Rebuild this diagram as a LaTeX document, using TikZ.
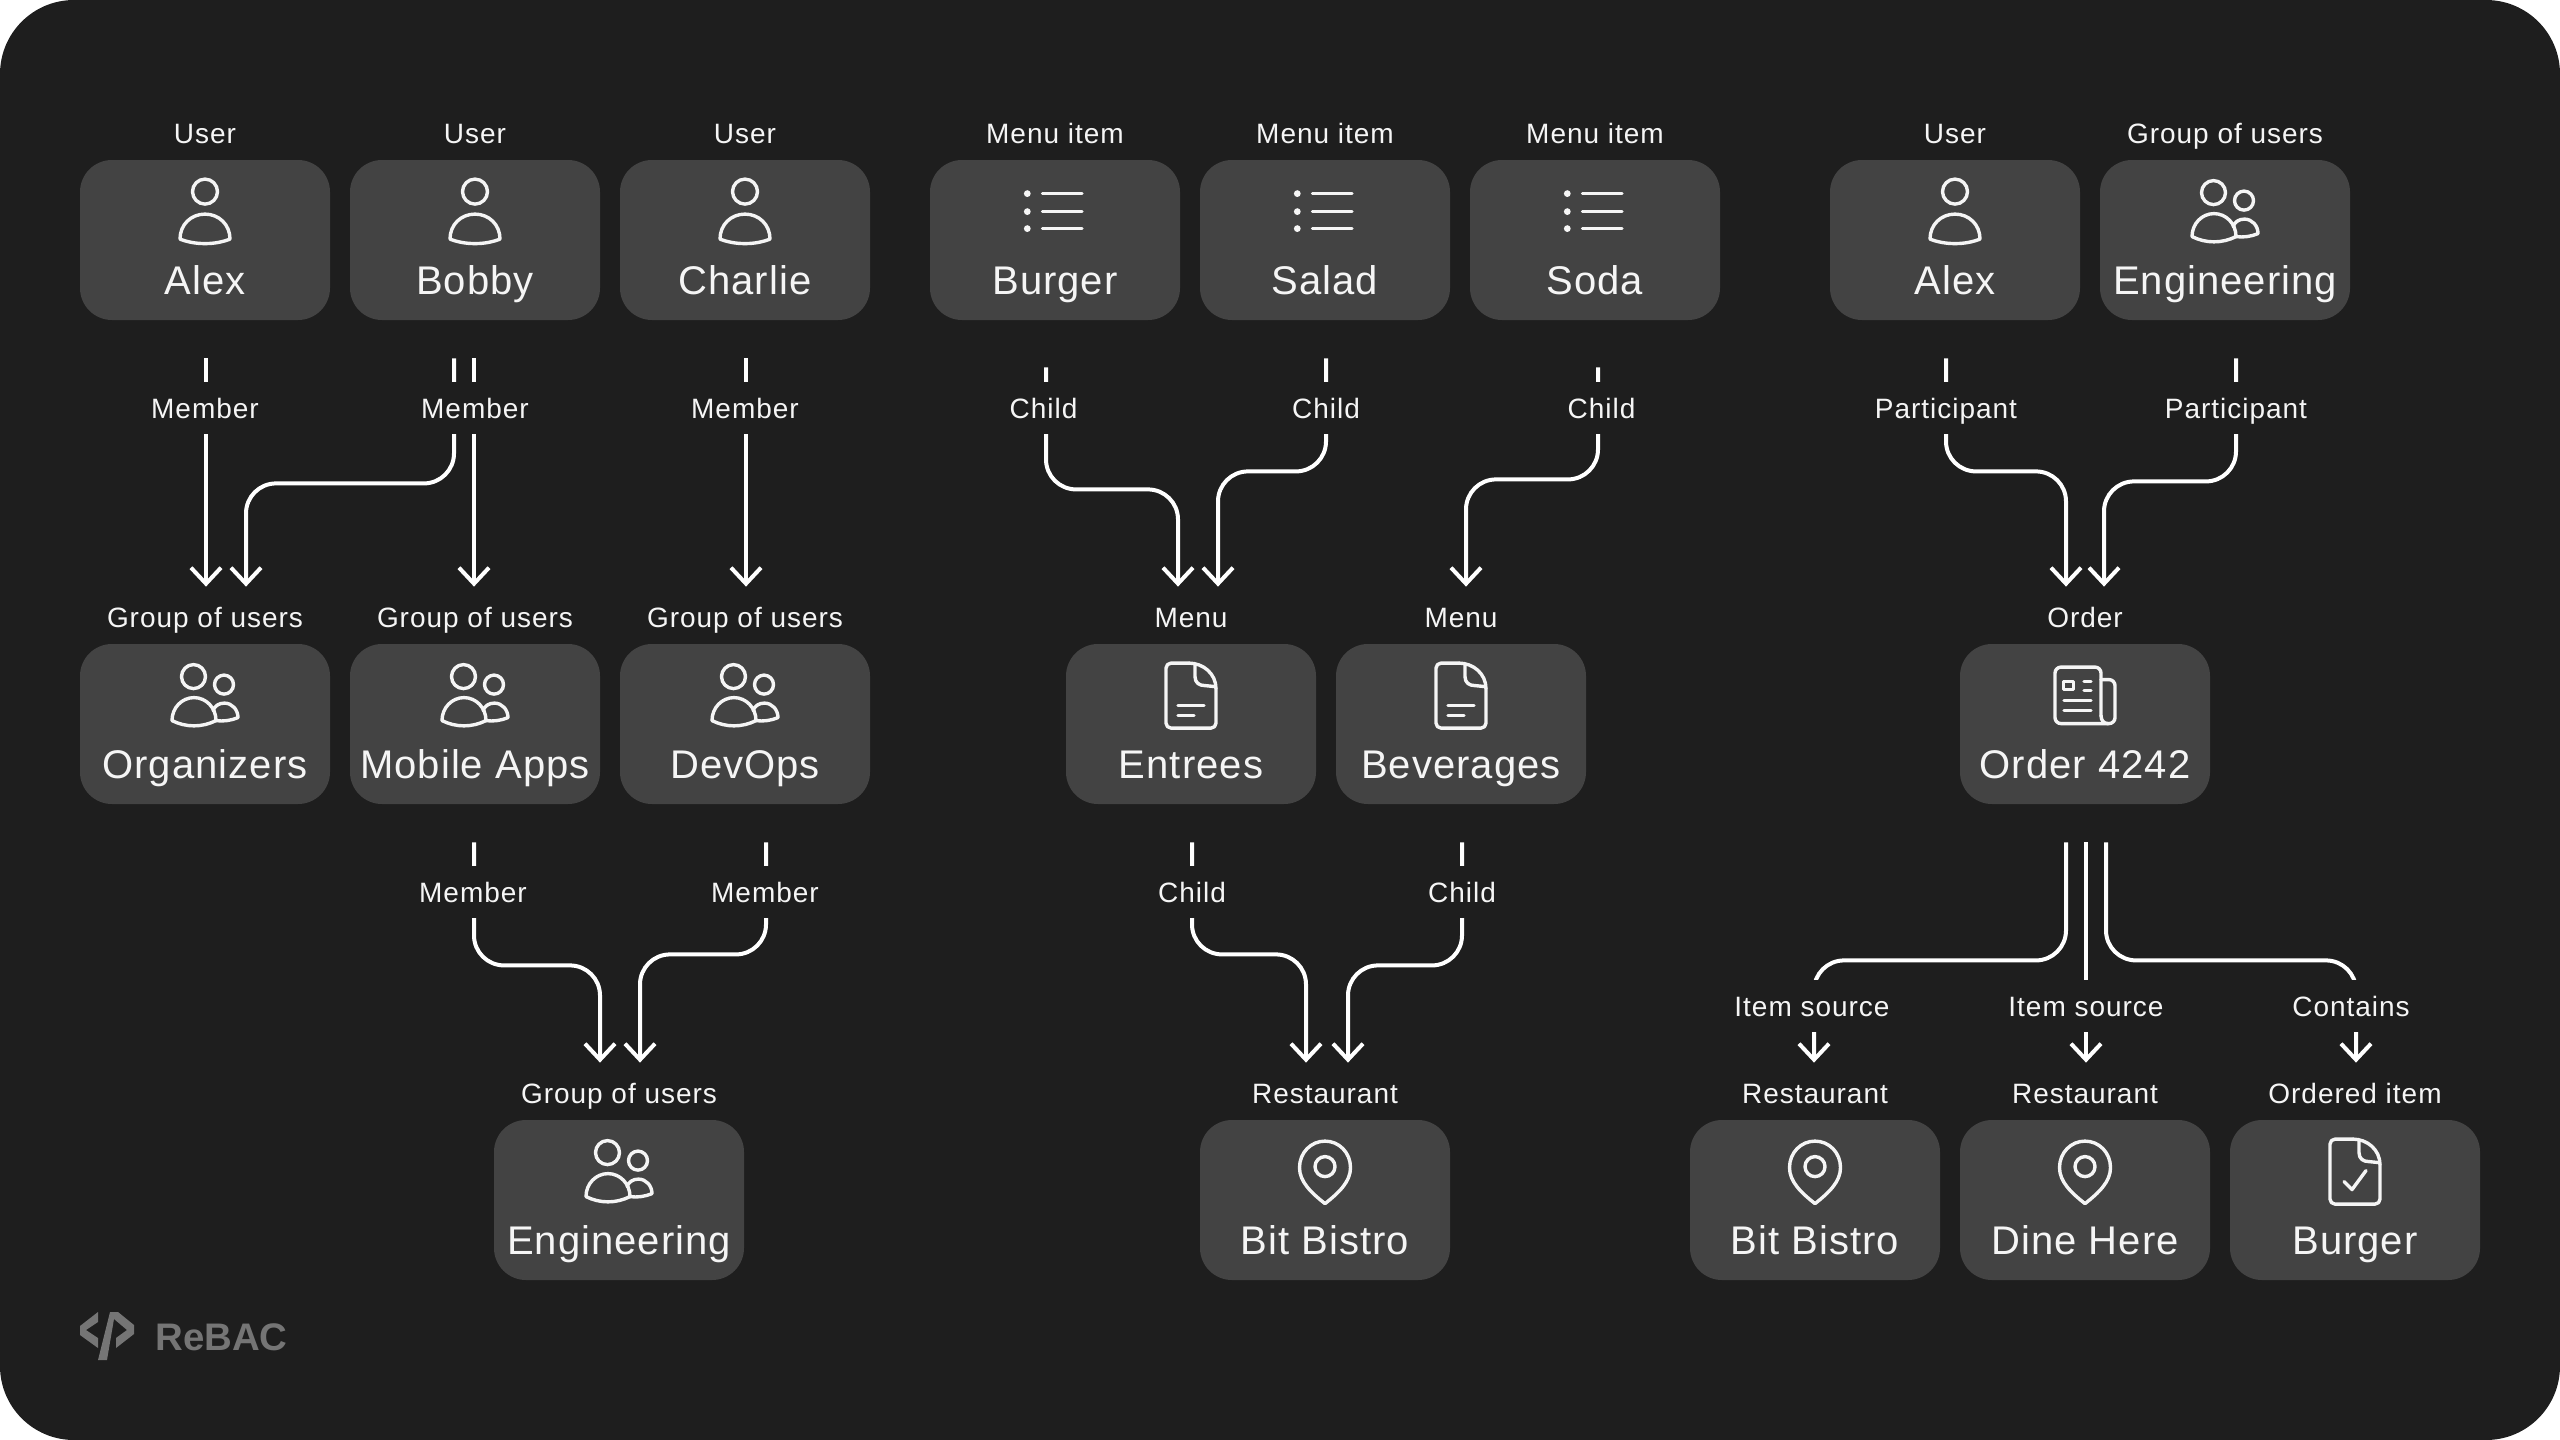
\documentclass[tikz,border=0pt]{standalone}
\usepackage{fontspec}
\setmainfont[LetterSpace=2.6]{Liberation Sans}
\newfontfamily\labfont[LetterSpace=3.5]{Liberation Sans}
\newfontfamily\logofont{Liberation Sans}
\usetikzlibrary{positioning,arrows.meta,calc}
\definecolor{bgdark}{HTML}{1E1E1E}
\definecolor{boxgray}{HTML}{434343}
\definecolor{inkwhite}{HTML}{F5F5F5}
\definecolor{logogray}{HTML}{757575}
\tikzset{
  box/.style = {rectangle, fill = boxgray, rounded corners=16pt, inner sep=0pt,
                minimum width = 125pt, text height = 67pt, text depth = 13pt,
                text = inkwhite, font = \fontsize{20pt}{24pt}\selectfont},
  typelab/.style = {inner sep=0pt, text depth=0pt, text = inkwhite,
                font = \labfont\fontsize{14pt}{17pt}\selectfont},
  rel/.style  = {fill = bgdark, inner ysep=0pt, inner xsep=1pt,
                text height = 18pt, text depth = 8pt, text = inkwhite,
                font = \labfont\fontsize{14pt}{17pt}\selectfont},
  conn/.style = {draw = white, line width=2pt, rounded corners=15pt,
                -{Straight Barb[length=8pt,width=15pt]}},
  ic/.style   = {draw = inkwhite, line width=1.7pt, line cap=round, line join=round},
  user/.pic = {
    \draw[ic] (0,32) circle[radius=12.5];
    \draw[ic] (-25,79.5) .. controls (-25,65) and (-14,54.5) .. (0,54.5)
      .. controls (14,54.5) and (25,65) .. (25,79.5)
      .. controls (10,85.5) and (-10,85.5) .. (-25,79.5) -- cycle;
  },
  usergroup/.pic = {
    \draw[ic] (-11.5,33) circle[radius=12];
    \draw[ic] (19,41) circle[radius=9.5];
    \draw[ic] (-33,77) .. controls (-33,64) and (-23,54) .. (-11,54)
      .. controls (1,54) and (11,64) .. (11,77)
      .. controls (-3,84) and (-19,84) .. (-33,77) -- cycle;
    \draw[ic] (8,67) .. controls (10,62) and (14,59.5) .. (19.5,59.5)
      .. controls (27,59.5) and (33,66) .. (33,74)
      .. controls (26,77) and (18,78) .. (11,77);
  },
  menulist/.pic = {
    \fill[inkwhite] (-27.7,34) circle[radius=3.4] (-27.7,52) circle[radius=3.4]
      (-27.7,69) circle[radius=3.4];
    \draw[ic] (-12.5,34) -- (27,34) (-12.5,52) -- (27,52) (-12.5,69) -- (27,69);
  },
  docpage/.pic = {
    \draw[ic, rounded corners=2.5pt] (-2,19.5) -- (-25,19.5) -- (-25,84.5) -- (25,84.5) -- (25,45);
    \draw[ic] (25,45) .. controls (25,30) and (12,19.5) .. (-2,19.5);
    \draw[ic] (4,21) -- (4,33) .. controls (4,39) and (8,42) .. (14,42) -- (24,43);
  },
  textpage/.pic = {
    \pic {docpage};
    \draw[ic] (-13,62) -- (13,62) (-13,72) -- (3,72);
  },
  okpage/.pic = {
    \pic {docpage};
    \draw[ic] (-11,62) -- (-3,70) -- (11,51);
  },
  mappin/.pic = {
    \draw[ic] (0,84) .. controls (-14,73) and (-25.5,62) .. (-25.5,48)
      .. controls (-25.5,33) and (-14,21.5) .. (0,21.5)
      .. controls (14,21.5) and (25.5,33) .. (25.5,48)
      .. controls (25.5,62) and (14,73) .. (0,84) -- cycle;
    \draw[ic] (0,47) circle[radius=10];
  },
  newspaper/.pic = {
    \draw[ic, rounded corners=3pt] (23,80) -- (-30,80) -- (-30,23.5) -- (16,23.5) -- (16,72);
    \draw[ic] (16,72) .. controls (16,77) and (19,80) .. (23,80);
    \draw[ic, rounded corners=3pt] (16,36) -- (30,36) -- (30,80) -- (23,80);
    \draw[ic, line width=1.5pt] (-21.7,37.7) rectangle (-12,46);
    \draw[ic] (-1,37.7) -- (6,37.7) (-1,47) -- (6,47)
      (-21,57) -- (6,57) (-21,66.7) -- (6,66.7);
  }
}
\begin{document}
\begin{tikzpicture}[x=0.5pt,y=-0.5pt]
  \useasboundingbox (0,0) rectangle (2560,1440);
  \fill[white] (0,0) rectangle (2560,1440);
  \fill[bgdark, rounded corners=37pt] (0,0) rectangle (2560,1440);

  % top row
  \node[box] (alex) at (205,240) {Alex};
  \node[box] (bobby) at (475,240) {Bobby};
  \node[box] (charlie) at (745,240) {Charlie};
  \node[box] (burger) at (1055,240) {Burger};
  \node[box] (salad) at (1325,240) {Salad};
  \node[box] (soda) at (1595,240) {Soda};
  \node[box] (alextwo) at (1955,240) {Alex};
  \node[box] (engtwo) at (2225,240) {Engineering};
  % middle row
  \node[box] (organizers) at (205,724) {Organizers};
  \node[box] (mobile) at (475,724) {Mobile Apps};
  \node[box] (devops) at (745,724) {DevOps};
  \node[box] (entrees) at (1191,724) {Entrees};
  \node[box] (beverages) at (1461,724) {Beverages};
  \node[box] (order) at (2085,724) {Order 4242};
  % bottom row
  \node[box] (eng) at (619,1200) {Engineering};
  \node[box] (bistro) at (1325,1200) {Bit Bistro};
  \node[box] (bistrotwo) at (1815,1200) {Bit Bistro};
  \node[box] (dine) at (2085,1200) {Dine Here};
  \node[box] (burgertwo) at (2355,1200) {Burger};

  \node[typelab, above=7.75pt of alex] (talex) {User};
  \node[typelab, above=7.75pt of bobby] (tbobby) {User};
  \node[typelab, above=7.75pt of charlie] (tcharlie) {User};
  \node[typelab, above=7.75pt of burger] (tburger) {Menu item};
  \node[typelab, above=7.75pt of salad] (tsalad) {Menu item};
  \node[typelab, above=7.75pt of soda] (tsoda) {Menu item};
  \node[typelab, above=7.75pt of alextwo] (talextwo) {User};
  \node[typelab, above=7.75pt of engtwo] (tengtwo) {Group of users};
  \node[typelab, above=7.75pt of organizers] (torganizers) {Group of users};
  \node[typelab, above=7.75pt of mobile] (tmobile) {Group of users};
  \node[typelab, above=7.75pt of devops] (tdevops) {Group of users};
  \node[typelab, above=7.75pt of entrees] (tentrees) {Menu};
  \node[typelab, above=7.75pt of beverages] (tbeverages) {Menu};
  \node[typelab, above=7.75pt of order] (torder) {Order};
  \node[typelab, above=7.75pt of eng] (teng) {Group of users};
  \node[typelab, above=7.75pt of bistro] (tbistro) {Restaurant};
  \node[typelab, above=7.75pt of bistrotwo] (tbistrotwo) {Restaurant};
  \node[typelab, above=7.75pt of dine] (tdine) {Restaurant};
  \node[typelab, above=7.75pt of burgertwo] (tburgertwo) {Ordered item};

  \pic at (alex.north) {user};
  \pic at (bobby.north) {user};
  \pic at (charlie.north) {user};
  \pic at (burger.north) {menulist};
  \pic at (salad.north) {menulist};
  \pic at (soda.north) {menulist};
  \pic at (alextwo.north) {user};
  \pic at (engtwo.north) {usergroup};
  \pic at (organizers.north) {usergroup};
  \pic at (mobile.north) {usergroup};
  \pic at (devops.north) {usergroup};
  \pic at (entrees.north) {textpage};
  \pic at (beverages.north) {textpage};
  \pic at (order.north) {newspaper};
  \pic at (eng.north) {usergroup};
  \pic at (bistro.north) {mappin};
  \pic at (bistrotwo.north) {mappin};
  \pic at (dine.north) {mappin};
  \pic at (burgertwo.north) {okpage};

  % connectors, the labels sit on top of them
  \draw[conn] ($(alex.south)+(1,38)$) -- ($(organizers.north)+(1,-57)$);
  \draw[conn] ($(bobby.south)+(-21,38)$) -- ++(0,125) -| ($(organizers.north)+(41,-57)$);
  \draw[conn] ($(bobby.south)+(-1,38)$) -- ($(mobile.north)+(-1,-57)$);
  \draw[conn] ($(charlie.south)+(1,38)$) -- ($(devops.north)+(1,-57)$);
  \draw[conn] ($(burger.south)+(-9,47)$) -- ++(0,122) -| ($(entrees.north)+(-13,-57)$);
  \draw[conn] ($(salad.south)+(1,38)$) -- ++(0,113) -| ($(entrees.north)+(27,-57)$);
  \draw[conn] ($(soda.south)+(3,47)$) -- ++(0,112) -| ($(beverages.north)+(5,-57)$);
  \draw[conn] ($(alextwo.south)+(-9,38)$) -- ++(0,113) -| ($(order.north)+(-19,-57)$);
  \draw[conn] ($(engtwo.south)+(11,38)$) -- ++(0,123) -| ($(order.north)+(19,-57)$);
  \draw[conn] ($(mobile.south)+(-1,38)$) -- ++(0,123) -| ($(eng.north)+(-19,-57)$);
  \draw[conn] ($(devops.south)+(21,38)$) -- ++(0,112) -| ($(eng.north)+(21,-57)$);
  \draw[conn] ($(entrees.south)+(1,38)$) -- ++(0,112) -| ($(bistro.north)+(-19,-57)$);
  \draw[conn] ($(beverages.south)+(1,38)$) -- ++(0,123) -| ($(bistro.north)+(23,-57)$);
  \draw[conn] ($(order.south)+(-19,38)$) -- ++(0,118) -| ($(bistrotwo.north)+(-1,-57)$);
  \draw[conn] ($(order.south)+(1,38)$) -- ($(dine.north)+(1,-57)$);
  \draw[conn] ($(order.south)+(21,38)$) -- ++(0,118) -| ($(burgertwo.north)+(1,-57)$);

  \node[rel] (ralex) at (205,408) {Member};
  \node[rel] (rbobby) at (475,408) {Member};
  \node[rel] (rcharlie) at (745,408) {Member};
  \node[rel] (rburger) at (1043.5,408) {Child};
  \node[rel] (rsalad) at (1326,408) {Child};
  \node[rel] (rsoda) at (1601.5,408) {Child};
  \node[rel] (ralextwo) at (1946,408) {Participant};
  \node[rel] (rengtwo) at (2236,408) {Participant};
  \node[rel] (rmobile) at (473,892) {Member};
  \node[rel] (rdevops) at (765,892) {Member};
  \node[rel] (rentrees) at (1192,892) {Child};
  \node[rel] (rbeverages) at (1462,892) {Child};
  \node[rel] (rleft) at (1812,1006) {Item source};
  \node[rel] (rmid) at (2086,1006) {Item source};
  \node[rel] (rright) at (2351,1006) {Contains};

  % logo
  \fill[logogray] (98,1312) -- (80,1326) -- (80,1335) -- (98,1348) -- (98,1338) -- (86,1330) -- (98,1322) -- cycle;
  \fill[logogray] (110,1312) -- (118,1312) -- (134,1325) -- (134,1334) -- (116,1348) -- (116,1338) -- (127,1330) -- (114,1319) -- (107,1360) -- (98,1360) -- cycle;
  \node[inner sep=0pt, anchor=base west, text=logogray, font=\logofont\fontsize{19.2pt}{24pt}\selectfont\bfseries] (logotext) at (155,1350) {ReBAC};
\end{tikzpicture}
\end{document}
